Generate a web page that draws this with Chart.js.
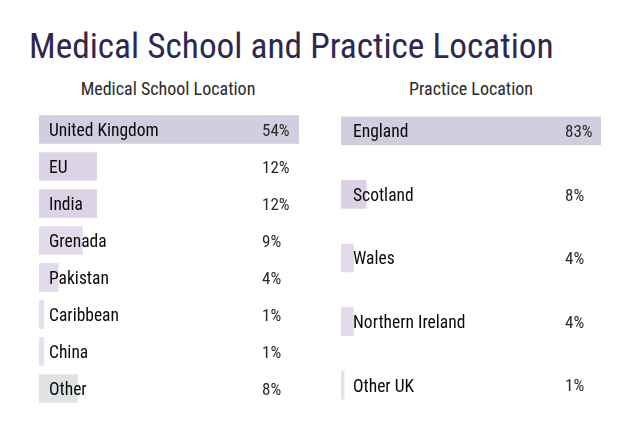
<!DOCTYPE html>
<html><head><meta charset="utf-8">
<script src="https://cdn.jsdelivr.net/npm/chart.js@4"></script>
<style>
html,body{margin:0;padding:0;background:#fff;width:640px;height:430px;overflow:hidden;}
#title{position:absolute;left:29px;top:25px;margin:0;font-family:"Roboto Condensed","Liberation Sans Narrow",Roboto,sans-serif;font-weight:400;font-size:35.3px;color:#2d2850;white-space:nowrap;}
.sub{position:absolute;top:78px;font-family:"Roboto Condensed","Liberation Sans Narrow",Roboto,sans-serif;font-size:18px;color:#2a2a2a;white-space:nowrap;transform:translateX(-50%);}
.wrap{position:absolute;}
</style></head>
<body>
<h1 id="title">Medical School and Practice Location</h1>
<div class="sub" id="s1" style="left:168px">Medical School Location</div>
<div class="sub" id="s2" style="left:471px">Practice Location</div>
<div class="wrap" style="left:39px;top:111px;width:262px;height:296px"><canvas id="c1"></canvas></div>
<div class="wrap" style="left:341px;top:99px;width:262px;height:318px"><canvas id="c2"></canvas></div>
<script>
const schoolCategories = ["United Kingdom","EU","India","Grenada","Pakistan","Caribbean","China","Other"];
const schoolValues = [54,12,12,9,4,1,1,8];
const schoolColors = ["#d2cedf","#dcd4e6","#dcd4e6","#e3dbec","#e3dbec","#e6deee","#e6deee","#dfe3e5"];
const practiceCategories = ["England","Scotland","Wales","Northern Ireland","Other UK"];
const practiceValues = [83,8,4,4,1];
const practiceColors = ["#d2cedf","#dad2e4","#e3daec","#e3daec","#e0e4e6"];

const FONT = '"Roboto Condensed","Liberation Sans Narrow",Roboto,sans-serif';

function labelPlugin(nameOffset, valueOffset){
  return {
    id:'labels',
    afterDatasetsDraw(chart){
      const ctx = chart.ctx;
      const meta = chart.getDatasetMeta(0);
      const xs = chart.scales.x;
      ctx.save();
      ctx.textBaseline = 'middle';
      meta.data.forEach((bar,i)=>{
        const y = bar.y + 2;
        ctx.font = '17.5px ' + FONT;
        ctx.fillStyle = '#0a0a0a';
        ctx.textAlign = 'left';
        ctx.fillText(chart.data.labels[i], xs.left + nameOffset, y);
        ctx.font = '17px ' + FONT;
        ctx.fillStyle = '#2a2a2a';
        ctx.fillText(chart.data.datasets[0].data[i] + '%', xs.left + valueOffset, y);
      });
      ctx.restore();
    }
  };
}

function make(id, cats, vals, cols, max, nameOffset, valueOffset){
  new Chart(document.getElementById(id), {
    type:'bar',
    data:{labels:cats, datasets:[{data:vals, backgroundColor:cols, barThickness:28, borderWidth:0}]},
    options:{
      indexAxis:'y', responsive:true, maintainAspectRatio:false, animation:false,
      layout:{padding:{left:0,right:2,top:0,bottom:0}},
      plugins:{legend:{display:false}, tooltip:{enabled:false}},
      scales:{
        x:{display:false, min:0, max:max},
        y:{display:false}
      }
    },
    plugins:[labelPlugin(nameOffset, valueOffset)]
  });
}
make('c1', schoolCategories, schoolValues, schoolColors, 54, 10, 223);
make('c2', practiceCategories, practiceValues, practiceColors, 83, 12, 224);
</script>
</body></html>
